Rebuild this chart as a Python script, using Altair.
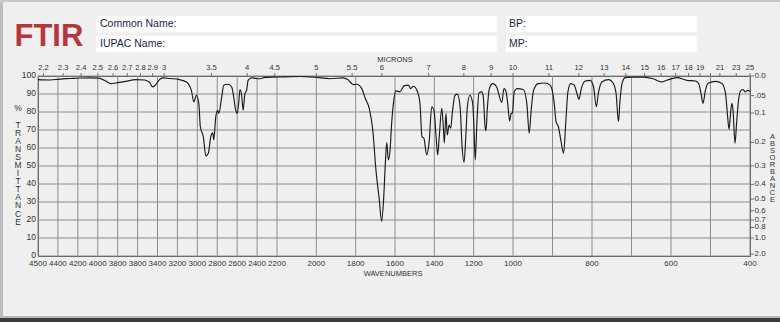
import altair as alt
import pandas as pd

# ---------------- data ----------------
wavenumber = [4600, 4480, 4380, 4280, 4180, 4080, 3990, 3930, 3870, 3800, 3720, 3620, 3530, 3480,
              3450, 3420, 3380, 3350, 3280, 3180, 3110, 3060, 3035, 3010, 2985, 2970, 2940, 2915,
              2890, 2865, 2845, 2835, 2815, 2795, 2785, 2755, 2735, 2690, 2655, 2635, 2615, 2600,
              2585, 2572, 2555, 2540, 2522, 2505, 2490, 2455, 2410, 2370, 2320, 2255, 2160, 2083,
              2007, 1930, 1865, 1840, 1813, 1795, 1769, 1751, 1731, 1713, 1697, 1680, 1668, 1658,
              1649, 1642, 1634, 1625, 1617, 1608, 1595, 1575, 1554, 1532, 1520, 1507, 1487, 1473,
              1463, 1453, 1439, 1427, 1413, 1402, 1391, 1383, 1375, 1362, 1354, 1349, 1341, 1334,
              1325, 1317, 1308, 1295, 1283, 1269, 1259, 1249, 1240, 1232, 1219, 1205, 1198, 1192,
              1183, 1173, 1159, 1151, 1142, 1137, 1131, 1120, 1103, 1083, 1057, 1046, 1037, 1027,
              1017, 1009, 1003, 997, 990, 974, 965, 959, 954, 948, 936, 919, 906, 896, 891, 885,
              879, 872, 866, 861, 854, 845, 838, 833, 827, 817, 805, 796, 789, 784, 775, 758, 746,
              739, 733, 729, 724, 716, 703, 670, 645, 624, 611, 585, 560, 538, 530, 524, 519, 513,
              505, 488, 471, 462, 458, 453, 450, 446, 443, 438, 434, 429, 423, 418, 412, 406, 400]
transmittance = [98.0, 97.8, 98.3, 98.6, 98.9, 99.0, 98.8, 97.5, 95.8, 96.3, 97.0, 98.0, 97.8, 96.5,
                 94.0, 95.0, 98.0, 99.0, 98.6, 98.0, 96.7, 92.0, 85.6, 89.3, 84.7, 71.8, 66.3, 55.6,
                 57.0, 66.3, 68.5, 64.5, 77.3, 81.0, 79.2, 88.4, 94.9, 95.4, 93.9, 88.4, 81.0, 79.2,
                 84.7, 92.5, 89.3, 81.0, 90.3, 92.0, 97.6, 99.0, 98.6, 98.5, 99.2, 99.4, 99.5, 99.7,
                 99.3, 98.5, 99.0, 98.0, 95.2, 95.4, 93.0, 87.5, 82.0, 70.0, 47.9, 31.3, 19.3, 31.3,
                 51.6, 63.0, 53.4, 59.0, 73.7, 84.8, 91.7, 91.2, 94.5, 94.9, 93.0, 94.3, 91.7, 84.8,
                 66.3, 65.4, 56.2, 62.7, 82.9, 81.0, 66.3, 56.2, 66.3, 82.0, 71.0, 62.7, 79.2, 67.2,
                 72.8, 71.0, 80.1, 89.3, 89.9, 82.9, 60.8, 52.0, 66.3, 82.9, 89.3, 84.8, 70.0, 53.4,
                 75.5, 90.6, 91.2, 88.4, 71.8, 69.6, 81.0, 93.0, 95.8, 93.9, 85.3, 93.0, 92.0, 84.8,
                 75.0, 79.2, 79.2, 91.2, 93.0, 92.5, 84.8, 68.2, 81.0, 92.0, 95.8, 96.1, 94.9, 85.6, 74.6, 71.8,
                 64.5, 57.1, 75.5, 91.2, 95.8, 94.9, 90.3, 87.0, 93.0, 97.2, 97.6, 93.9, 82.9, 90.3, 96.7, 98.0, 95.8,
                 90.3, 74.6, 86.6, 95.8, 99.1, 99.4, 99.4, 98.5, 96.7, 97.6, 99.1, 97.6, 97.2, 95.8, 90.3, 84.8, 92.0,
                 96.1, 97.0, 95.8, 90.3, 81.0, 70.4, 77.3, 84.8, 81.0, 62.6, 73.7, 86.6, 92.0, 92.5, 91.2, 92.0, 91.5]

grid_wavenumbers = [4600, 4400, 4200, 4000, 3800, 3600, 3400, 3200, 3000, 2800, 2600, 2400, 2200,
                    2000, 1800, 1600, 1400, 1200, 1000, 900, 800, 700, 600, 500, 400]
wn_tick_values = [4600, 4400, 4200, 4000, 3800, 3600, 3400, 3200, 3000, 2800, 2600, 2400, 2200,
                  2000, 1800, 1600, 1400, 1200, 1000, 800, 600, 400]
wn_tick_labels = ["4500", "4400", "4200", "4000", "3800", "3800", "3400", "3200", "3000", "2800",
                  "2600", "2400", "2200", "2000", "1800", "1600", "1400", "1200", "1000", "800",
                  "600", "400"]
micron_values = [2.2, 2.3, 2.4, 2.5, 2.6, 2.7, 2.8, 2.9, 3, 3.5, 4, 4.5, 5, 5.5, 6, 7, 8, 9, 10,
                 11, 12, 13, 14, 15, 16, 17, 18, 19, 21, 23, 25]
micron_labels = ["2.2", "2.3", "2.4", "2.5", "2.6", "2.7", "2.8", "2.9", "3", "3.5", "4", "4.5",
                 "5", "5.5", "6", "7", "8", "9", "10", "11", "12", "13", "14", "15", "16", "17",
                 "18", "19", "21", "23", "25"]
micron_tick_values = micron_values + [20]
percent_ticks = [0, 10, 20, 30, 40, 50, 60, 70, 80, 90, 100]
absorbance_values = [0.0, 0.05, 0.1, 0.2, 0.3, 0.4, 0.5, 0.6, 0.7, 0.8, 1.0, 2.0]
absorbance_labels = ["0.0", ".05", "0.1", "0.2", "0.3", "0.4", "0.5", "0.6", "0.7", "0.8", "1.0", "2.0"]

# ---------------- tables ----------------
spec = pd.DataFrame({"wn": wavenumber, "T": transmittance})
grid_v = pd.DataFrame({"wn": grid_wavenumbers})
grid_h = pd.DataFrame({"pct": percent_ticks})
wn_ticks = pd.DataFrame({"wn": wn_tick_values, "label": wn_tick_labels})
microns = pd.DataFrame({"um": micron_values, "label": micron_labels})
micron_ticks_df = pd.DataFrame({"um": micron_tick_values})
absorb = pd.DataFrame({"A": absorbance_values, "label": absorbance_labels})
one = pd.DataFrame({"k": [0]})

FONT = "Liberation Sans"
TXT = "#333333"
GRID = "#8c8c8c"

X = alt.Scale(domain=[4600, 2200, 1000, 400], range=[0, 239, 475, 712], nice=False, zero=False)
Y = alt.Scale(domain=[0, 100], nice=False, zero=False)

vgrid = alt.Chart(grid_v).mark_rule(color=GRID, strokeWidth=1).encode(
    x=alt.X("wn:Q", scale=X, axis=None), y=alt.value(0), y2=alt.value(180))
hgrid = alt.Chart(grid_h).mark_rule(color=GRID, strokeWidth=1).encode(
    y=alt.Y("pct:Q", scale=Y, axis=None), x=alt.value(0), x2=alt.value(712))

spectrum = alt.Chart(spec).mark_line(color="#1a1a1a", strokeWidth=1.15, interpolate="monotone").encode(
    x=alt.X("wn:Q", scale=X, axis=None),
    y=alt.Y("T:Q", scale=Y, axis=None),
    order=alt.Order("wn:Q", sort="descending"),
)

pct_text = alt.Chart(grid_h).mark_text(fontSize=8.5, font=FONT, color=TXT, align="right",
                                       baseline="middle", dy=-1).encode(
    y=alt.Y("pct:Q", scale=Y, axis=None), x=alt.value(-2), text="pct:N")

wn_text = alt.Chart(wn_ticks).mark_text(fontSize=8, font=FONT, color=TXT, baseline="middle").encode(
    x=alt.X("wn:Q", scale=X, axis=None),
    y=alt.value(188),
    text="label:N",
)

micron_text = alt.Chart(microns).transform_calculate(wn="10000 / datum.um").mark_text(
    fontSize=7.6, font=FONT, color=TXT, baseline="middle").encode(
    x=alt.X("wn:Q", scale=X, axis=None),
    y=alt.value(-8),
    text="label:N",
)
micron_ticks = alt.Chart(micron_ticks_df).transform_calculate(wn="10000 / datum.um").mark_rule(
    color="#555", strokeWidth=0.8).encode(
    x=alt.X("wn:Q", scale=X, axis=None),
    y=alt.value(-3),
    y2=alt.value(0),
)

abs_ticks = alt.Chart(absorb).transform_calculate(T="100 * pow(10, -datum.A)").mark_rule(
    color="#555", strokeWidth=0.8).encode(
    y=alt.Y("T:Q", scale=Y, axis=None),
    x=alt.value(712),
    x2=alt.value(716),
)
abs_text = alt.Chart(absorb).transform_calculate(T="100 * pow(10, -datum.A)").mark_text(
    fontSize=8, font=FONT, color=TXT, align="left", baseline="middle").encode(
    y=alt.Y("T:Q", scale=Y, axis=None),
    x=alt.value(716.5),
    text="label:N",
)


def label(text, x, y, size=8.5, align="center", baseline="middle", font=FONT, color=TXT,
          weight="normal", line_height=None):
    kw = dict(fontSize=size, align=align, baseline=baseline, font=font, color=color,
              fontWeight=weight)
    if line_height is not None:
        kw["lineHeight"] = line_height
    return alt.Chart(one).mark_text(**kw).encode(x=alt.value(x), y=alt.value(y),
                                                  text=alt.value(text))


def box(x1, x2, y1, y2, color):
    return alt.Chart(one).mark_rect(color=color).encode(
        x=alt.value(x1), x2=alt.value(x2), y=alt.value(y1), y2=alt.value(y2))


NAVY = "#1d1d4f"
decor = [
    box(-38, -35, -76, 246, "#bdbdbd"),
    box(-38, 742, -76, -74, "#c9c9c9"),
    box(-38, 742, 240, 242, "#b9b9b9"),
    box(-38, 742, 242, 246, "#3a3a3a"),
    box(58, 458.7, -60.3, -43.7, "white"),
    box(58, 458.7, -40.3, -23.7, "white"),
    box(468, 658.7, -60.3, -43.7, "white"),
    box(468, 658.7, -40.3, -23.7, "white"),
    label("FTIR", -23.5, -30, size=31, align="left", baseline="alphabetic",
          color="#b5363c", weight="bold"),
    label("Common Name:", 62, -52, size=10.5, align="left", color=NAVY),
    label("IUPAC Name:", 62, -32, size=10.5, align="left", color=NAVY),
    label("BP:", 471, -52, size=10.5, align="left", color=NAVY),
    label("MP:", 471, -32, size=10.5, align="left", color=NAVY),
    label("MICRONS", 357, -16, size=7.5),
    label("WAVENUMBERS", 355, 197.5, size=7.5),
    label("%", -20, 32, size=8.5),
    label(list("TRANSMITTANCE"), -20, 44.5, size=8.5, baseline="top", line_height=8.1),
    label(list("ABSORBANCE"), 734.5, 56.5, size=7.5, baseline="top", line_height=7.0),
]

chart = alt.layer(*decor, vgrid, hgrid, spectrum, pct_text, wn_text, micron_ticks, micron_text,
                  abs_ticks, abs_text).properties(
    width=712,
    height=180,
    autosize="none",
    padding={"left": 38, "top": 76, "right": 30, "bottom": 66},
    background="#efefef",
).configure_view(
    stroke="#4a4a4a", strokeWidth=1, fill="#efefef"
)

chart.save("out.html", embed_options={"renderer": "svg", "actions": False})
